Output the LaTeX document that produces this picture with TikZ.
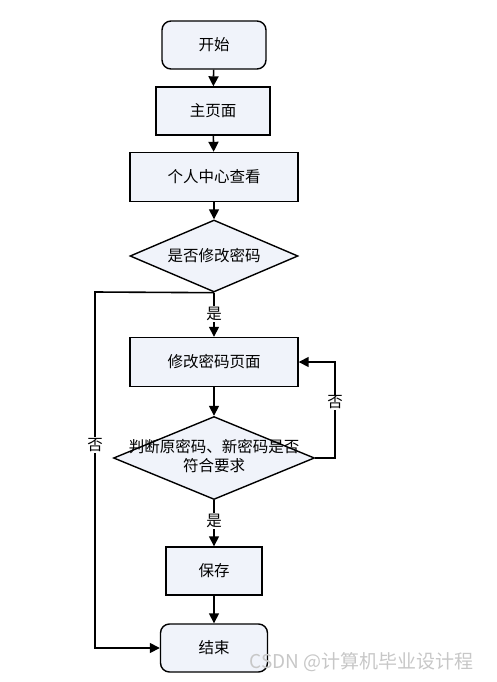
\documentclass[tikz,border=0pt]{standalone}
\usepackage{fontspec}
\setmainfont{Noto Sans CJK SC}
\usetikzlibrary{arrows.meta,shapes.geometric}
\definecolor{boxfill}{RGB}{240,243,250}
\tikzset{
  x=1pt,y=-1pt,
  tfont/.style={font=\fontsize{15.5}{19}\selectfont},
  base/.style={draw=black,line width=1.4pt,fill=boxfill,tfont,align=center,inner sep=0pt},
  startbox/.style={base,rounded corners=9pt,minimum width=104pt,minimum height=48pt},
  procbox/.style={base,minimum height=49pt},
  conn/.style={line width=1.6pt,-{Triangle[length=10pt,width=10pt]}},
  lbl/.style={fill=white,inner sep=1pt,tfont}
}
\begin{document}
\begin{tikzpicture}
\useasboundingbox (0,0) rectangle (496,682);
\node[startbox] (start) at (214,45) {开始};
\node[procbox,minimum width=114pt,minimum height=48pt] (home) at (213,111) {主页面};
\node[procbox,minimum width=168pt] (center) at (214,177) {个人中心查看};
\node[base,diamond,minimum width=168pt,minimum height=72pt] (q1) at (214,256) {};
\node[tfont] (q1t) at (214,256) {是否修改密码};
\node[procbox,minimum width=168pt] (page) at (214,362) {修改密码页面};
\node[base,diamond,minimum width=201pt,minimum height=83pt] (q2) at (214,458) {};
\node[tfont,align=center] (q2t) at (214,456) {判断原密码、新密码是否\\符合要求};
\node[procbox,minimum width=96pt,minimum height=48pt] (save) at (214,571) {保存};
\node[startbox,minimum width=107pt] (end) at (214,648) {结束};
\coordinate (lc1) at (95,292);
\coordinate (lc2) at (95,648);
\coordinate (rc1) at (335,458);
\coordinate (rc2) at (335,362);
\draw[conn] (start) -- (home);
\draw[conn] (home) -- (center);
\draw[conn] (center) -- (q1.north);
\draw[conn] (q1.south) -- node[lbl,pos=0.48]{是} (page);
\draw[conn] (page) -- (q2.north);
\draw[conn] (q2.south) -- node[lbl,pos=0.45]{是} (save);
\draw[conn] (save) -- (end);
\draw[conn] (q1.south) -- (lc1) -- node[lbl,pos=0.43]{否} (lc2) -- (end.west);
\draw[conn] (q2.east) -- (rc1) -- node[lbl,pos=0.58]{否} (rc2) -- (page.east);
\node[text=black!22,font=\fontsize{19}{22}\selectfont,anchor=west] (wm) at (246,662) {CSDN @计算机毕业设计程};
\end{tikzpicture}
\end{document}
